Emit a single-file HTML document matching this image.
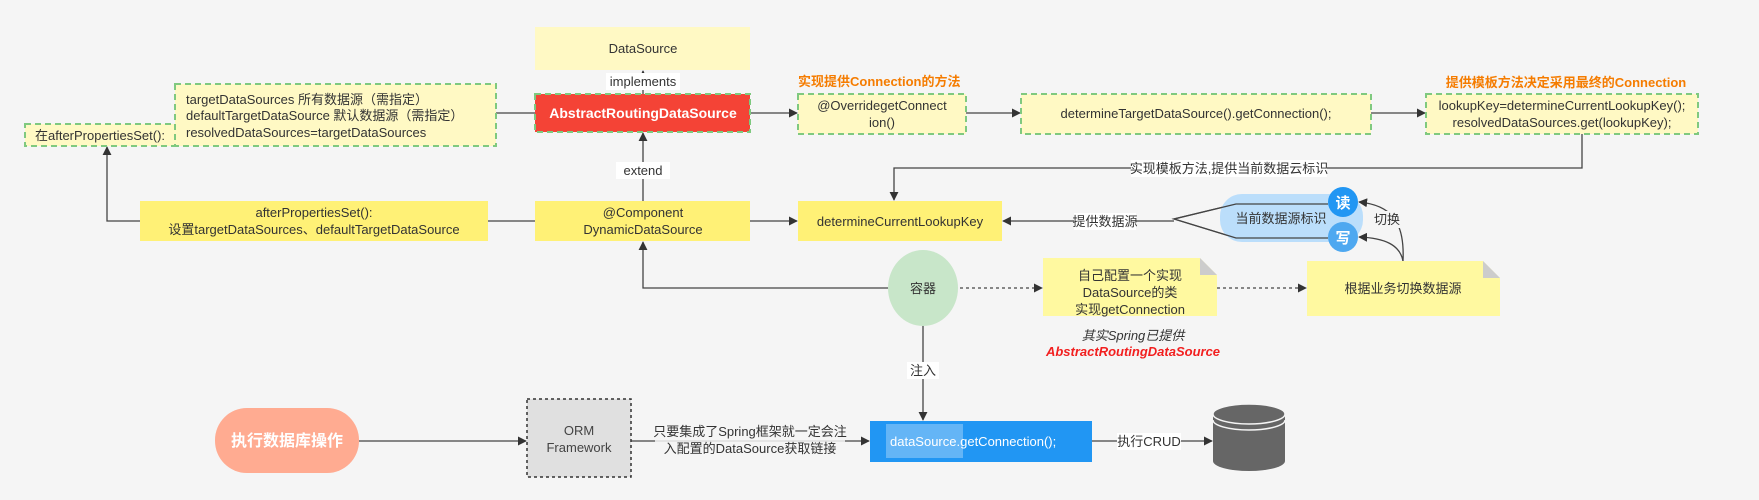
<!DOCTYPE html>
<html><head><meta charset="utf-8"><style>
body{margin:0;background:#f5f5f5}
svg{display:block;font-family:"Liberation Sans","Noto Sans CJK SC",sans-serif}
</style></head><body>
<svg width="1759" height="500" viewBox="0 0 1759 500" xmlns="http://www.w3.org/2000/svg">
<defs>
<marker id="a" viewBox="0 0 10 10" refX="9" refY="5" markerWidth="9" markerHeight="9" orient="auto-start-reverse" markerUnits="userSpaceOnUse"><path d="M0,0L10,5L0,10z" fill="#333"/></marker>
</defs>
<rect width="1759" height="500" fill="#f5f5f5"/>
<g font-size="13" fill="#333">
<!-- lines -->
<g stroke="#444" stroke-width="1.3" fill="none">
<line x1="643" y1="94" x2="643" y2="71" marker-end="url(#a)"/>
<line x1="643" y1="201" x2="643" y2="133" marker-end="url(#a)"/>
<line x1="496" y1="113" x2="535" y2="113"/>
<line x1="750" y1="113" x2="797" y2="113" marker-end="url(#a)"/>
<line x1="966" y1="113" x2="1020" y2="113" marker-end="url(#a)"/>
<line x1="1371" y1="113" x2="1425" y2="113" marker-end="url(#a)"/>
<polyline points="1582,134 1582,168 894,168 894,200" marker-end="url(#a)"/>
<line x1="488" y1="221" x2="535" y2="221"/>
<polyline points="140,221 107,221 107,147" marker-end="url(#a)"/>
<line x1="750" y1="221" x2="797" y2="221" marker-end="url(#a)"/>
<polyline points="890,288 643,288 643,242" marker-end="url(#a)"/>
<line x1="1174" y1="221" x2="1003" y2="221" marker-end="url(#a)"/>
<polyline points="1328,204 1236,204 1174,219 1236,238 1328,238"/>
<line x1="960" y1="288" x2="1042" y2="288" stroke-dasharray="3,3" marker-end="url(#a)"/>
<line x1="1217" y1="288" x2="1306" y2="288" stroke-dasharray="3,3" marker-end="url(#a)"/>
<path d="M1403,261 C1405,220 1390,205 1359,202" marker-end="url(#a)"/>
<path d="M1403,261 C1400,245 1385,238 1359,237" marker-end="url(#a)"/>
<line x1="923" y1="325" x2="923" y2="420" marker-end="url(#a)"/>
<line x1="359" y1="441" x2="526" y2="441" marker-end="url(#a)"/>
<line x1="631" y1="441" x2="869" y2="441" marker-end="url(#a)"/>
<line x1="1092" y1="441" x2="1212" y2="441" marker-end="url(#a)"/>
</g>
<!-- boxes -->
<rect x="535" y="27" width="215" height="43" fill="#fff9c4"/>
<text x="643" y="53" text-anchor="middle">DataSource</text>
<rect x="606" y="73" width="74" height="17" fill="#fff"/>
<text x="643" y="86" text-anchor="middle">implements</text>
<rect x="535" y="94" width="215" height="38" fill="#f44336" stroke="#7fc97f" stroke-width="2" stroke-dasharray="6,4"/>
<text x="643" y="118" text-anchor="middle" fill="#fff" font-weight="bold" font-size="14">AbstractRoutingDataSource</text>
<rect x="25" y="124" width="155" height="22" fill="#fff9c4" stroke="#7fc97f" stroke-width="2" stroke-dasharray="6,4"/>
<text x="35" y="140">在afterPropertiesSet():</text>
<rect x="175" y="84" width="321" height="62" fill="#fff9c4" stroke="#7fc97f" stroke-width="2" stroke-dasharray="6,4"/>
<text x="186" y="104">targetDataSources 所有数据源（需指定）</text>
<text x="186" y="120">defaultTargetDataSource  默认数据源（需指定）</text>
<text x="186" y="137">resolvedDataSources=targetDataSources</text>
<text x="798" y="86" fill="#f57c00" font-weight="bold">实现提供Connection的方法</text>
<rect x="798" y="94" width="168" height="40" fill="#fff9c4" stroke="#7fc97f" stroke-width="2" stroke-dasharray="6,4"/>
<text x="882" y="110" text-anchor="middle">@OverridegetConnect</text>
<text x="882" y="127" text-anchor="middle">ion()</text>
<rect x="1021" y="94" width="350" height="40" fill="#fff9c4" stroke="#7fc97f" stroke-width="2" stroke-dasharray="6,4"/>
<text x="1196" y="118" text-anchor="middle">determineTargetDataSource().getConnection();</text>
<text x="1566" y="87" text-anchor="middle" fill="#f57c00" font-weight="bold">提供模板方法决定采用最终的Connection</text>
<rect x="1426" y="94" width="272" height="40" fill="#fff9c4" stroke="#7fc97f" stroke-width="2" stroke-dasharray="6,4"/>
<text x="1562" y="110" text-anchor="middle">lookupKey=determineCurrentLookupKey();</text>
<text x="1562" y="127" text-anchor="middle">resolvedDataSources.get(lookupKey);</text>
<rect x="1131" y="160" width="196" height="17" fill="#fff"/>
<text x="1229" y="173" text-anchor="middle">实现模板方法,提供当前数据云标识</text>
<rect x="616" y="162" width="54" height="17" fill="#fff"/>
<text x="643" y="175" text-anchor="middle">extend</text>
<rect x="140" y="201" width="348" height="40" fill="#fff176"/>
<text x="314" y="217" text-anchor="middle">afterPropertiesSet():</text>
<text x="314" y="234" text-anchor="middle">设置targetDataSources、defaultTargetDataSource</text>
<rect x="535" y="201" width="215" height="40" fill="#fff176"/>
<text x="643" y="217" text-anchor="middle">@Component</text>
<text x="643" y="234" text-anchor="middle">DynamicDataSource</text>
<rect x="798" y="201" width="204" height="40" fill="#fff176"/>
<text x="900" y="226" text-anchor="middle">determineCurrentLookupKey</text>
<rect x="1220" y="194" width="143" height="48" rx="22" fill="#bbdefb"/>
<polyline points="1328,204 1236,204 1174,219 1236,238 1328,238" stroke="#444" stroke-width="1.3" fill="none"/>
<text x="1281" y="223" text-anchor="middle">当前数据源标识</text>
<rect x="1074" y="213" width="62" height="17" fill="#fff"/>
<text x="1105" y="226" text-anchor="middle">提供数据源</text>
<circle cx="1343" cy="202" r="15" fill="#2196f3"/>
<text x="1343" y="208" text-anchor="middle" fill="#fff" font-weight="bold" font-size="15">读</text>
<circle cx="1343" cy="237" r="15" fill="#4ea8f0"/>
<text x="1343" y="243" text-anchor="middle" fill="#fff" font-weight="bold" font-size="15">写</text>
<rect x="1372" y="211" width="30" height="17" fill="#f5f5f5"/>
<text x="1387" y="224" text-anchor="middle">切换</text>
<ellipse cx="923" cy="288" rx="35" ry="38" fill="#c8e6c9"/>
<text x="923" y="293" text-anchor="middle">容器</text>
<path d="M1043,258 H1200 L1217,275 V316 H1043 Z" fill="#fff9a0"/>
<path d="M1200,258 L1217,275 H1200 Z" fill="#ccc"/>
<text x="1130" y="280" text-anchor="middle">自己配置一个实现</text>
<text x="1130" y="297" text-anchor="middle">DataSource的类</text>
<text x="1130" y="314" text-anchor="middle">实现getConnection</text>
<path d="M1307,261 H1483 L1500,278 V316 H1307 Z" fill="#fff9a0"/>
<path d="M1483,261 L1500,278 H1483 Z" fill="#ccc"/>
<text x="1403" y="293" text-anchor="middle">根据业务切换数据源</text>
<text x="1133" y="340" text-anchor="middle" font-style="italic">其实Spring已提供</text>
<text x="1133" y="356" text-anchor="middle" font-style="italic" font-weight="bold" fill="#f21f1f">AbstractRoutingDataSource</text>
<rect x="907" y="362" width="32" height="17" fill="#fff"/>
<text x="923" y="375" text-anchor="middle">注入</text>
<rect x="215" y="408" width="144" height="65" rx="32" fill="#ffab91"/>
<text x="287" y="446" text-anchor="middle" fill="#fff" font-weight="bold" font-size="16">执行数据库操作</text>
<rect x="527" y="399" width="104" height="78" fill="#e0e0e0" stroke="#333" stroke-width="1.5" stroke-dasharray="3,3"/>
<text x="579" y="435" text-anchor="middle" fill="#444">ORM</text>
<text x="579" y="452" text-anchor="middle" fill="#444">Framework</text>
<rect x="655" y="424" width="190" height="34" fill="#f5f5f5" opacity="0.85"/>
<text x="750" y="436" text-anchor="middle">只要集成了Spring框架就一定会注</text>
<text x="750" y="453" text-anchor="middle">入配置的DataSource获取链接</text>
<rect x="870" y="421" width="222" height="41" fill="#2196f3"/>
<rect x="886" y="424" width="77" height="34" fill="#64b5f6"/>
<text x="890" y="446" fill="#fff">dataSource.getConnection();</text>
<rect x="1117" y="433" width="64" height="17" fill="#fff"/>
<text x="1149" y="446" text-anchor="middle">执行CRUD</text>
<path d="M1213,414 V461 A36,10 0 0 0 1285,461 V414" fill="#666"/>
<ellipse cx="1249" cy="414" rx="36" ry="10" fill="#666" stroke="#f5f5f5" stroke-width="1.5"/>
<path d="M1213,420 A36,10 0 0 0 1285,420" fill="none" stroke="#f5f5f5" stroke-width="1.5"/>
</g>
</svg>
</body></html>
